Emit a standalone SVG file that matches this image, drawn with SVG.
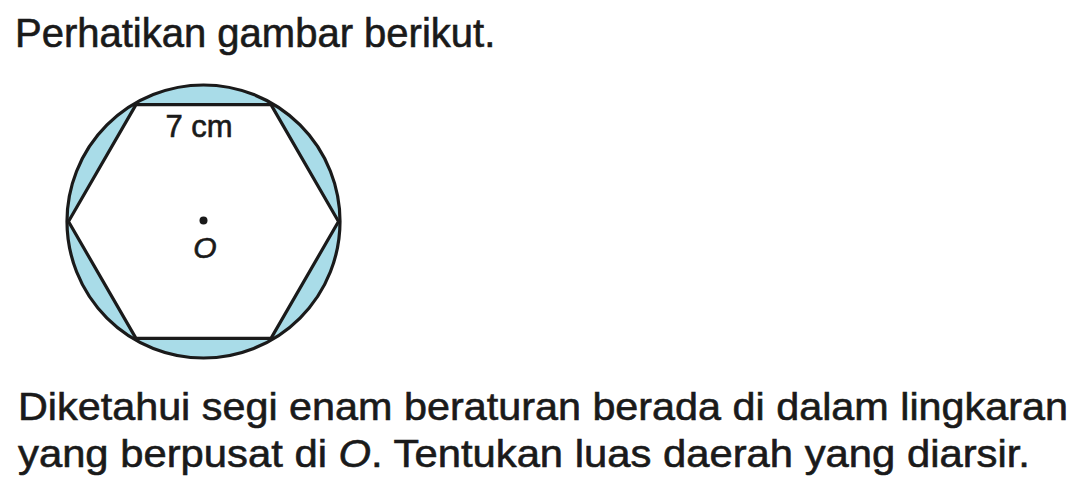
<svg xmlns="http://www.w3.org/2000/svg" width="1080" height="492" viewBox="0 0 1080 492">
<style>
.t{font-family:"Liberation Sans",Arial,sans-serif;fill:#1a1a1a;stroke:#1a1a1a;stroke-width:0.6}
.line{stroke:#1a1a1a;stroke-width:3.2;stroke-linejoin:round}
</style>
<rect width="1080" height="492" fill="#ffffff"/>
<text class="t" x="15" y="47" font-size="40">Perhatikan gambar berikut.</text>
<g id="circle">
<circle class="line" cx="203.5" cy="221.5" r="136.5" fill="#a9dce8"/>
</g>
<g id="hexagon">
<polygon class="line" fill="#ffffff" points="68.5,221.5 136,104.6 271,104.6 338.5,221.5 271,338.4 136,338.4"/>
<text class="t" x="199" y="137" font-size="31" text-anchor="middle">7 cm</text>
</g>
<g id="center">
<circle cx="203.5" cy="220.5" r="4" fill="#1a1a1a"/>
<text class="t" x="205" y="258" font-size="30" font-style="italic" text-anchor="middle">O</text>
</g>
<g id="connectors"></g>
<text class="t" x="18" y="420" font-size="39" textLength="1050" lengthAdjust="spacingAndGlyphs">Diketahui segi enam beraturan berada di dalam lingkaran</text>
<text class="t" x="18" y="467" font-size="39" textLength="1012" lengthAdjust="spacingAndGlyphs">yang berpusat di <tspan font-style="italic">O</tspan>. Tentukan luas daerah yang diarsir.</text>
</svg>
